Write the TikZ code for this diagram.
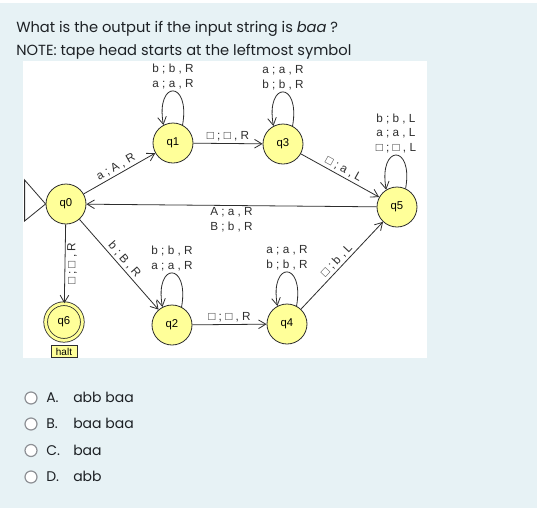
\documentclass[tikz,border=0pt]{standalone}
\usepackage{fontspec}
\setmainfont{Poppins}
\newfontfamily\jflapfont{Liberation Sans}
\usepackage{xcolor}
\definecolor{pagebg}{HTML}{E7F2F5}
\definecolor{stateyel}{HTML}{FFFF99}
\definecolor{inkdark}{HTML}{1D2125}
\definecolor{edgegray}{HTML}{2E2E2E}
\definecolor{radiogray}{HTML}{8E9196}
\usetikzlibrary{arrows.meta, positioning}
\tikzset{
  tstate/.style ={circle, draw=edgegray, line width=0.6pt, fill=stateyel, minimum size=30pt,
                  inner sep=0pt, text=black, font=\jflapfont\fontsize{8.5}{10}\selectfont},
  tfinal/.style ={tstate, double=stateyel, double distance=2.2pt, minimum size=27.5pt},
  haltbox/.style={rectangle, draw=edgegray, line width=0.6pt, fill=stateyel, minimum width=19.5pt,
                  minimum height=8.5pt, inner sep=0.5pt, text=black, font=\jflapfont\fontsize{7.5}{8}\selectfont},
  tarr/.style   ={-{Straight Barb[length=5.5pt,width=6.5pt]}, line width=0.6pt, color=edgegray},
  tlbl/.style   ={font=\jflapfont\fontsize{8.8}{10.8}\selectfont, text=edgegray, inner sep=1.5pt, align=center},
  qline/.style  ={font=\fontsize{11}{14}\selectfont, text=inkdark, anchor=base west, inner sep=0pt},
  optline/.style={font=\fontsize{10.5}{13}\selectfont, text=inkdark, anchor=base west, inner sep=0pt},
  radio/.style  ={circle, draw=radiogray, line width=0.9pt, fill=white, minimum size=9pt, inner sep=0pt},
}
\begin{document}
\begin{tikzpicture}[x=0.75pt, y=0.75pt]
  \useasboundingbox (0,0) rectangle (537,-522);
  % page and panels
  \fill[white] (0,0) rectangle (537,-522);
  \fill[pagebg] (0,-3) rectangle (537,-508);
  \fill[white] (23,-61) rectangle (427,-358);

  % question
  \node[qline] (ques) at (16,-32) {What is the output if the input string is \textit{baa} ?};
  \node[qline] (note) at (16,-55.5) {NOTE: tape head starts at the leftmost symbol};

  % states
  \node[tstate] (q0) at (66,-204) {q0};
  \node[tstate] (q1) at (173,-143) {q1};
  \node[tstate] (q3) at (283,-144) {q3};
  \node[tstate] (q5) at (397,-207) {q5};
  \node[tstate] (q2) at (172,-325) {q2};
  \node[tstate] (q4) at (287,-324) {q4};
  \node[tfinal] (q6) at (64,-322) {q6};
  \node[haltbox, below=3.5pt of q6] (halt) {halt};
  \draw[edgegray, line width=0.6pt] (q0.west) -- ++(-21,24) -- ++(0,-41) -- cycle;

  % transitions
  \draw[tarr] (q0) -- (q1) node[midway, sloped, above, tlbl] {a ; A , R};
  \draw[tarr] (q1) -- (q3) node[midway, above, tlbl] {□ ; □ , R};
  \draw[tarr] (q3) -- (q5) node[midway, sloped, above, tlbl] {□ ; a , L};
  \draw[tarr] (q5) -- (q0) node[midway, below, tlbl] {A ; a , R\\B ; b , R};
  \draw[tarr] (q0) -- (q2) node[midway, sloped, above, tlbl] {b ; B , R};
  \draw[tarr] (q0) -- (q6) node[midway, rotate=90, anchor=north, tlbl] {□ ; □ , R};
  \draw[tarr] (q2) -- (q4) node[midway, above, tlbl] {□ ; □ , R};
  \draw[tarr] (q4) -- (q5) node[midway, sloped, above, tlbl] {□ ; b , L};

  % loops
  \draw[tarr] (q1.62) .. controls +(80:46) and +(100:46) .. (q1.118) node[midway, above, tlbl] {b ; b , R\\a ; a , R};
  \draw[tarr] (q3.62) .. controls +(80:46) and +(100:46) .. (q3.118) node[midway, above, tlbl] {a ; a , R\\b ; b , R};
  \draw[tarr] (q2.62) .. controls +(80:46) and +(100:46) .. (q2.118) node[midway, above, tlbl] {b ; b , R\\a ; a , R};
  \draw[tarr] (q4.62) .. controls +(80:46) and +(100:46) .. (q4.118) node[midway, above, tlbl] {a ; a , R\\b ; b , R};
  \draw[tarr] (q5.65) .. controls +(80:46) and +(100:46) .. (q5.122) node[midway, above, tlbl] {b ; b , L\\a ; a , L\\□ ; □ , L};

  % answers
  \node[radio] (radA) at (31,-398) {};
  \node[radio] (radB) at (31,-424) {};
  \node[radio] (radC) at (31,-450.5) {};
  \node[radio] (radD) at (31,-477) {};
  \node[optline] (ltrA) at (46,-402.5) {A.};
  \node[optline] (ltrB) at (46,-428.5) {B.};
  \node[optline] (ltrC) at (46,-455) {C.};
  \node[optline] (ltrD) at (46,-481.5) {D.};
  \node[optline] (ansA) at (73,-402.5) {abb baa};
  \node[optline] (ansB) at (73,-428.5) {baa baa};
  \node[optline] (ansC) at (73,-455) {baa};
  \node[optline] (ansD) at (73,-481.5) {abb};
\end{tikzpicture}
\end{document}
